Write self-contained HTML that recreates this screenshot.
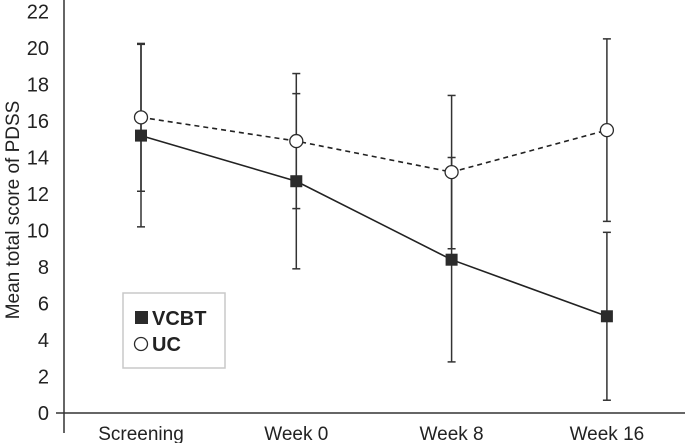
<!DOCTYPE html>
<html><head><meta charset="utf-8"><style>
html,body{margin:0;padding:0;background:#fff;}
svg{display:block;font-family:"Liberation Sans",sans-serif;}
</style></head><body>
<svg id="chart" width="685" height="443" viewBox="0 0 685 443" xmlns="http://www.w3.org/2000/svg">
<g id="axes"></g>
<g id="marks"></g>
<g>
  <rect x="123" y="293" width="102" height="75" fill="#fff" stroke="#c8c8c8" stroke-width="1.5"/>
  <rect x="135" y="311" width="13" height="13" fill="#2b2b2b"/>
  <text x="152" y="325" font-size="20" font-weight="bold" fill="#222">VCBT</text>
  <circle cx="141" cy="344" r="6.5" fill="#fff" stroke="#2b2b2b" stroke-width="1.3"/>
  <text x="152" y="351" font-size="20" font-weight="bold" fill="#222">UC</text>
</g>
</svg>
<script>
const categories = ["Screening","Week 0","Week 8","Week 16"];
const vcbtMean = [15.2, 12.7, 8.4, 5.3];
const vcbtErr = [5.0, 4.8, 5.6, 4.6];
const ucMean = [16.2, 14.9, 13.2, 15.5];
const ucErr = [4.05, 3.7, 4.2, 5.0];
const yTicks = [0,2,4,6,8,10,12,14,16,18,20,22];

const NS = "http://www.w3.org/2000/svg";
const axes = document.getElementById('axes');
const marks = document.getElementById('marks');
function xPos(i){ return 141 + i*155.3; }
function yPos(v){ return 413 - v*18.25; }
function mk(tag, attrs, parent){
  const e = document.createElementNS(NS, tag);
  for (const k in attrs) e.setAttribute(k, attrs[k]);
  parent.appendChild(e); return e;
}
const col = "#333";
let e;
e = mk('line',{x1:64,y1:0,x2:64,y2:433,stroke:col,'stroke-width':1.5},axes);


e = mk('line',{x1:56,y1:413,x2:685,y2:413,stroke:col,'stroke-width':1.5},axes);


yTicks.forEach(t=>{
  const tx = mk('text',{x:49,y:yPos(t)+7,'text-anchor':'end','font-size':20,fill:'#222'},axes);
  tx.textContent = t;
  
  
});
categories.forEach((c,i)=>{
  const tx = mk('text',{x:xPos(i),y:440,'text-anchor':'middle','font-size':19,fill:'#222'},axes);
  tx.textContent = c;
  
  
});
const yt = mk('text',{x:0,y:0,transform:'translate(19,210) rotate(-90)','text-anchor':'middle','font-size':19,fill:'#222'},axes);
yt.textContent = "Mean total score of PDSS";



function errBars(mean, err, name){
  mean.forEach((m,i)=>{
    const x = xPos(i), y1 = yPos(m+err[i]), y2 = yPos(m-err[i]);
    const g = mk('g',{},marks);
    
    
    mk('line',{x1:x,y1:y1,x2:x,y2:y2,stroke:col,'stroke-width':1.5},g);
    mk('line',{x1:x-4,y1:y1,x2:x+4,y2:y1,stroke:col,'stroke-width':1.5},g);
    mk('line',{x1:x-4,y1:y2,x2:x+4,y2:y2,stroke:col,'stroke-width':1.5},g);
  });
}
errBars(ucMean, ucErr, 'uc');
errBars(vcbtMean, vcbtErr, 'vcbt');
function line(mean, dash, name){
  const pts = mean.map((m,i)=>xPos(i)+','+yPos(m)).join(' ');
  const p = mk('polyline',{points:pts,fill:'none',stroke:'#222','stroke-width':1.6},marks);
  if (dash) p.setAttribute('stroke-dasharray','5,4');
  
  
}
line(ucMean, true, 'uc');
line(vcbtMean, false, 'vcbt');
ucMean.forEach((m,i)=>{
  const c = mk('circle',{cx:xPos(i),cy:yPos(m),r:6.5,fill:'#fff',stroke:'#2b2b2b','stroke-width':1.3},marks);
  
  
});
vcbtMean.forEach((m,i)=>{
  const r = mk('rect',{x:xPos(i)-6,y:yPos(m)-6,width:12,height:12,fill:'#2b2b2b'},marks);
  
  
});
</script>
</body></html>
